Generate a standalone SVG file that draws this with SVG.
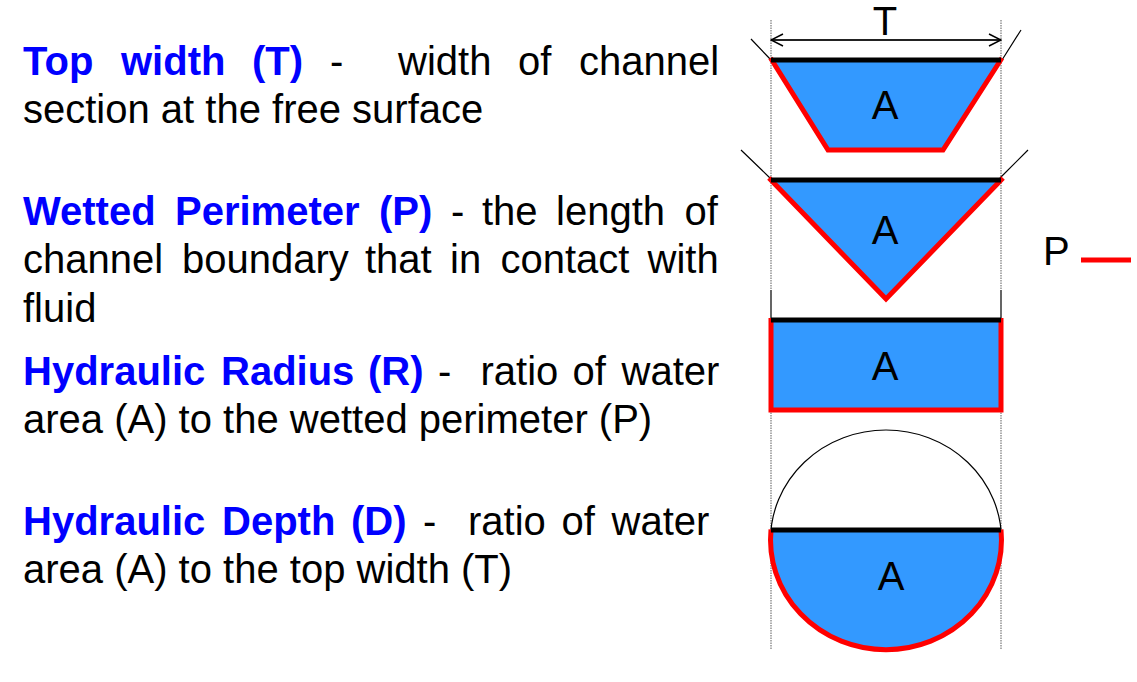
<svg xmlns="http://www.w3.org/2000/svg" width="1137" height="682" viewBox="0 0 1137 682">
<style>
text{font-family:"Liberation Sans",Arial,sans-serif;fill:#000}
.t{font-size:40px}
.b{font-weight:bold;fill:#0000ff}
.l{font-size:40px}
.water{fill:#3399ff;stroke:none}
.p{fill:none;stroke:#ff0000;stroke-width:5px;stroke-linejoin:miter}
.s{stroke:#000;stroke-width:5px;fill:none}
.thin{stroke:#000;stroke-width:1.2px;fill:none}
.dim{stroke:#222;stroke-width:1.8px;fill:none}
.g{stroke:#777;stroke-width:1.2px;stroke-dasharray:1.5 1;fill:none}
</style>
<defs>
<marker id="open" markerWidth="14" markerHeight="14" refX="13" refY="7" orient="auto-start-reverse" markerUnits="userSpaceOnUse"><path d="M1 1 L13 7 L1 13" fill="none" stroke="#000" stroke-width="1.5"/></marker>
</defs>
<g id="text-top-width">
<text class="t" y="75"><tspan class="b" x="23">Top</tspan><tspan class="b" x="121">width</tspan><tspan class="b" x="252">(T)</tspan><tspan x="330">-</tspan><tspan x="398">width</tspan><tspan x="518">of</tspan><tspan x="579">channel</tspan></text>
<text class="t" x="23" y="123">section at the free surface</text>
</g>
<g id="text-wetted-perimeter">
<text class="t" y="225"><tspan class="b" x="23">Wetted</tspan><tspan class="b" x="175">Perimeter</tspan><tspan class="b" x="379">(P)</tspan><tspan x="451">-</tspan><tspan x="482">the</tspan><tspan x="556">length</tspan><tspan x="684.500">of</tspan></text>
<text class="t" y="273"><tspan x="23">channel</tspan><tspan x="182">boundary</tspan><tspan x="365">that</tspan><tspan x="450">in</tspan><tspan x="500.500">contact</tspan><tspan x="647.500">with</tspan></text>
<text class="t" x="23" y="322">fluid</text>
</g>
<g id="text-hydraulic-radius">
<text class="t" y="385"><tspan class="b" x="23">Hydraulic</tspan><tspan class="b" x="221">Radius</tspan><tspan class="b" x="368">(R)</tspan><tspan x="438">-</tspan><tspan x="480.500">ratio</tspan><tspan x="572.500">of</tspan><tspan x="621.500">water</tspan></text>
<text class="t" x="23" y="433">area (A) to the wetted perimeter (P)</text>
</g>
<g id="text-hydraulic-depth">
<text class="t" y="535"><tspan class="b" x="23">Hydraulic</tspan><tspan class="b" x="222">Depth</tspan><tspan class="b" x="351">(D)</tspan><tspan x="423">-</tspan><tspan x="468">ratio</tspan><tspan x="561.500">of</tspan><tspan x="611.500">water</tspan></text>
<text class="t" x="23" y="583">area (A) to the top width (T)</text>
</g>
<g id="connectors">
<path class="g" d="M771 20V290M1001 20V290M771 410V650M1001 410V650"/>
<path class="thin" d="M771 290V320M1001 290V320"/>
<path class="dim" d="M771 40H1001" marker-start="url(#open)" marker-end="url(#open)"/>
<path class="thin" d="M751 39L771 60M1002 60L1021 30M741 150L770 178M1000 178L1028 150"/>
</g>
<g id="trapezoid">
<polygon class="water" points="771,60 1001,60 943,150 828,150"/>
<path class="p" d="M770.500 58L828 150H943L1002 58"/>
<path class="s" d="M771 60H1001"/>
<text class="l" x="885" y="119" text-anchor="middle">A</text>
<text class="l" x="885" y="35" text-anchor="middle">T</text>
</g>
<g id="triangle">
<polygon class="water" points="771,180 1001,180 886,300"/>
<path class="p" d="M769 178L886 299L1003 178"/>
<path class="s" d="M771 180H1001"/>
<text class="l" x="885" y="244" text-anchor="middle">A</text>
</g>
<g id="rectangle">
<rect class="water" x="771" y="320" width="230" height="90"/>
<path class="p" d="M771 318V410H1001V318"/>
<path class="s" d="M771 320H1001"/>
<text class="l" x="885" y="380" text-anchor="middle">A</text>
</g>
<g id="circle">
<ellipse class="thin" cx="886" cy="540" rx="115.500" ry="110"/>
<path class="water" d="M771 530H1001A115.500 110 0 1 1 771 530Z"/>
<path class="p" d="M771 530A115.500 110 0 1 0 1001 530" transform="translate(0 -0.500)"/>
<path class="s" d="M771 530H1001"/>
<text class="l" x="891" y="590" text-anchor="middle">A</text>
</g>
<g id="legend">
<text class="l" x="1043" y="265">P</text>
<path d="M1081 260H1131" stroke="#ff0000" stroke-width="5" fill="none"/>
</g>
</svg>
